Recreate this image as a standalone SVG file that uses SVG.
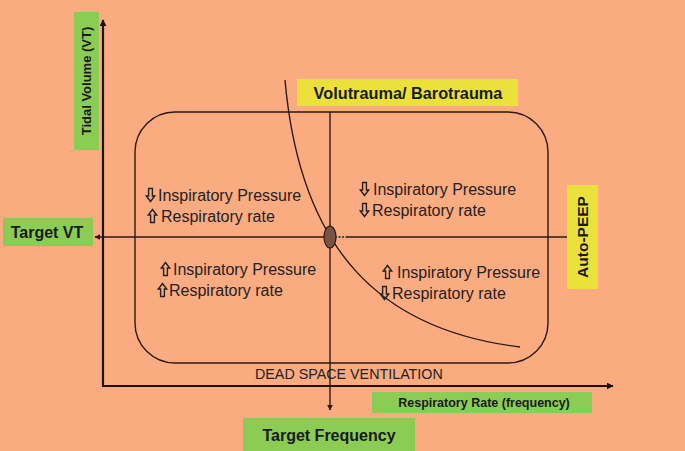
<svg xmlns="http://www.w3.org/2000/svg" width="685" height="451" viewBox="0 0 685 451">
<defs>
<style>
.ln{stroke:#2b1a12;fill:none;stroke-width:1.4}
.ax{stroke:#1e120c;fill:none;stroke-width:2.2}
.g{fill:#8ccc55}
.y{fill:#eae23a}
.lb{font-family:"Liberation Sans",Arial,sans-serif;font-weight:bold;fill:#1a1a1a}
.t{font-family:"Liberation Sans",Arial,sans-serif;font-size:16px;fill:#222}
.ds{font-family:"Liberation Sans",Arial,sans-serif;font-size:14.3px;fill:#222}
.arw{fill:none;stroke:#222;stroke-width:1.4;stroke-linejoin:miter}
</style>
<path id="up" class="arw" d="M2.6,13.5 L2.6,6 L0.3,6 L4.5,0.5 L8.7,6 L6.4,6 L6.4,13.5 Z"/>
<path id="dn" class="arw" d="M2.6,0.5 L2.6,8 L0.3,8 L4.5,13.5 L8.7,8 L6.4,8 L6.4,0.5 Z"/>
<marker id="ah" viewBox="0 0 10 10" refX="9" refY="5" markerWidth="7" markerHeight="7" markerUnits="userSpaceOnUse" orient="auto"><path d="M0,0 L10,5 L0,10 z" fill="#1e120c"/></marker>
<marker id="ahs" viewBox="0 0 10 10" refX="9" refY="5" markerWidth="6" markerHeight="6" markerUnits="userSpaceOnUse" orient="auto"><path d="M0,0 L10,5 L0,10 z" fill="#2b1a12"/></marker>
</defs>
<rect width="685" height="451" fill="#fbab80"/>
<g id="connectors">
<rect x="135" y="112" width="413" height="251" rx="40" ry="40" class="ln"/>
<line x1="103" y1="386" x2="103" y2="20" class="ax" marker-end="url(#ah)"/>
<line x1="102" y1="386" x2="613" y2="386" class="ax" marker-end="url(#ah)"/>
<line x1="567" y1="237" x2="95" y2="237" class="ln" marker-end="url(#ahs)"/>
<line x1="330" y1="112" x2="330" y2="410" class="ln" marker-end="url(#ahs)"/>
<path d="M285,80 C300,250 380,330 520,347" class="ln"/>
<line x1="337" y1="237" x2="347" y2="237" stroke="#f4e0d0" stroke-width="1.4" stroke-dasharray="1.5,2"/>
</g>
<g id="point"><ellipse cx="330" cy="237" rx="6" ry="11" fill="#7a5242" stroke="#2b1a12" stroke-width="1.2"/></g>
<g id="tidal-volume"><rect x="74" y="12" width="25" height="138" class="g"/><text class="lb" font-size="13" transform="translate(91,81) rotate(-90)" text-anchor="middle">Tidal Volume (VT)</text></g>
<g id="target-vt"><rect x="3" y="218" width="90" height="28" class="g"/><text class="lb" font-size="16" x="47" y="238" text-anchor="middle">Target VT</text></g>
<g id="volutrauma"><rect x="297" y="79" width="221" height="27" class="y"/><text class="lb" font-size="16.3" x="408" y="98.5" text-anchor="middle">Volutrauma/ Barotrauma</text></g>
<g id="auto-peep"><rect x="567" y="185" width="31" height="104" class="y"/><text class="lb" font-size="15.5" transform="translate(588,237) rotate(-90)" text-anchor="middle">Auto-PEEP</text></g>
<g id="resp-rate"><rect x="372" y="392" width="220" height="21" class="g"/><text class="lb" font-size="12.5" x="484" y="407" text-anchor="middle">Respiratory Rate (frequency)</text></g>
<g id="target-frequency"><rect x="243" y="418" width="172" height="33" class="g"/><text class="lb" font-size="16" x="329" y="441" text-anchor="middle">Target Frequency</text></g>
<g id="dead-space"><text class="ds" x="255" y="379">DEAD SPACE VENTILATION</text></g>
<g id="upper-left">
<use href="#dn" x="146" y="188"/><text class="t" x="158" y="201">Inspiratory Pressure</text>
<use href="#up" x="148" y="209"/><text class="t" x="161" y="222">Respiratory rate</text>
</g>
<g id="upper-right">
<use href="#dn" x="360" y="182"/><text class="t" x="373" y="195">Inspiratory Pressure</text>
<use href="#dn" x="360" y="203"/><text class="t" x="372" y="216">Respiratory rate</text>
</g>
<g id="lower-left">
<use href="#up" x="161" y="262"/><text class="t" x="173" y="275">Inspiratory Pressure</text>
<use href="#up" x="158" y="283"/><text class="t" x="169" y="296">Respiratory rate</text>
</g>
<g id="lower-right">
<use href="#up" x="383" y="265"/><text class="t" x="397" y="278">Inspiratory Pressure</text>
<use href="#dn" x="380" y="286"/><text class="t" x="392" y="299">Respiratory rate</text>
</g>
</svg>
